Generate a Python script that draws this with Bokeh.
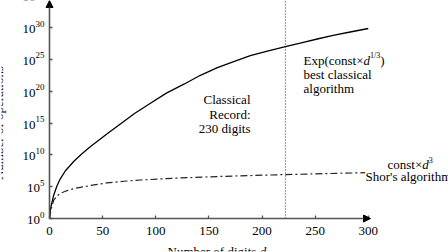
import numpy as np
from math import pi
from bokeh.plotting import figure
from bokeh.models import Label, FixedTicker, Arrow, NormalHead, CustomJSTickFormatter
from bokeh.embed import file_html
from bokeh.resources import INLINE

# ---- data ----
classical_digits = [0, 1, 2, 4, 7, 10, 15, 23, 30, 38.6, 54.3, 67, 80, 95, 110, 126.5, 142,
                    158, 174, 189, 205, 222, 237, 252, 268, 283, 300]
classical_log10_ops = [0, 1.5, 2.3, 3.7, 5.1, 6.2, 7.5, 9.0, 10.1, 11.3, 13.3, 14.9, 16.5, 18.1,
                       19.7, 21.1, 22.5, 23.7, 24.7, 25.6, 26.3, 27.0, 27.6, 28.2, 28.8, 29.3, 29.85]
shor_digits = [0, 1, 2, 4, 7, 10, 16, 23, 39, 54, 70, 86, 103, 120, 160, 200, 222, 260, 297]
shor_log10_ops = [0, 1.0, 1.8, 2.9, 3.5, 3.95, 4.35, 4.7, 5.2, 5.6, 5.85, 6.05, 6.2, 6.35, 6.6,
                  6.8, 6.9, 7.05, 7.2]
record_digits = 222
x_ticks = [0, 50, 100, 150, 200, 250, 300]
y_tick_exponents = [0, 5, 10, 15, 20, 25, 30, 35]

# ---- geometry: the frame (almost) fills the canvas; axes sit at fixed locations ----
W, H = 448, 252
X0_PX, Y0_PX = 49, 218          # pixel position of (0, 10^0)
KX = 1.0626                     # px per digit
KY = 6.365                      # px per decade
B = 1                           # thin border so the side panels exist
FONT = "Liberation Serif"


def dx(px):
    return (px - X0_PX) / KX


def dy(py):
    return 10 ** ((Y0_PX - py) / KY)


p = figure(width=W, height=H, x_range=(dx(B), dx(W)), y_range=(dy(H - B), dy(0)),
           y_axis_type="log", output_backend="svg", toolbar_location=None,
           min_border_left=B, min_border_right=0, min_border_top=0, min_border_bottom=B)
p.outline_line_color = None
p.xgrid.visible = False
p.ygrid.visible = False
p.background_fill_color = "white"
p.border_fill_color = "white"

AX = "#555555"
for ax in (p.xaxis, p.yaxis):
    ax.axis_line_color = None
    ax.major_tick_in = 3
    ax.major_tick_out = 0
    ax.minor_tick_line_color = None
    ax.major_tick_line_color = AX
    ax.major_tick_line_width = 1.3

# fixed_location is given in the cross-range's coordinates
p.xaxis.fixed_location = 1      # the x axis sits at y = 10^0
p.yaxis.fixed_location = 0      # the y axis sits at x = 0

p.xaxis.ticker = FixedTicker(ticks=x_ticks)
p.xaxis.major_label_text_font = FONT
p.xaxis.major_label_text_font_size = "13px"
p.xaxis.major_label_text_color = "black"
p.xaxis.major_label_standoff = 8

p.yaxis.ticker = FixedTicker(ticks=[10.0 ** k for k in y_tick_exponents])
p.yaxis.formatter = CustomJSTickFormatter(code="return '';")

# axis lines with arrow heads
p.add_layout(Arrow(end=NormalHead(size=7, fill_color="black", line_color="black", line_width=1),
                   x_start=0, y_start=1, x_end=0, y_end=dy(0),
                   line_color=AX, line_width=1.6))
p.add_layout(Arrow(end=NormalHead(size=7, fill_color="black", line_color="black", line_width=1),
                   x_start=0, y_start=1, x_end=dx(370), y_end=1,
                   line_color=AX, line_width=1.6))

# record line
p.segment(x0=[record_digits], y0=[1], x1=[record_digits], y1=[dy(0)], line_color="#222222",
          line_width=1, line_dash="1 2")

# curves
p.line(classical_digits, 10.0 ** np.array(classical_log10_ops), line_color="black", line_width=1.3)
p.line(shor_digits, 10.0 ** np.array(shor_log10_ops), line_color="#222222", line_width=1.2,
       line_dash="7 3 2 3")

# y tick labels 10^k
for k in y_tick_exponents:
    s = str(k)
    p.add_layout(Label(x=0, y=10.0 ** k, text="10", x_offset=-5 - 4.5 * len(s), y_offset=-1.5,
                       text_align="right", text_baseline="alphabetic", text_font=FONT,
                       text_font_size="13px", text_color="black"))
    p.add_layout(Label(x=0, y=10.0 ** k, text=s, x_offset=-5, y_offset=4,
                       text_align="right", text_baseline="alphabetic", text_font=FONT,
                       text_font_size="9px", text_color="black"))


def txt(text, px, py, size="13px", align="left", style="normal", angle=0):
    p.add_layout(Label(x=dx(px), y=dy(py), text=text, text_align=align,
                       text_baseline="alphabetic", text_font=FONT, text_font_size=size,
                       text_font_style=style, text_color="black", angle=angle))


# annotations
txt("Classical", 250, 99, align="right")
txt("Record:", 250, 113.5, align="right")
txt("230 digits", 250, 128, align="right")

txt("Exp(const×", 303, 59.5)
txt("d", 363, 59.5, style="italic")
txt("1/3", 369.5, 54.5, size="8px")
txt(")", 379.7, 59.5)
txt("best classical", 303, 73.5)
txt("algorithm", 303, 88)

txt("const×", 387, 164)
txt("d", 421.8, 164, style="italic")
txt("3", 428.3, 159, size="8px")
txt("Shor's algorithm", 365, 176)

# axis titles (partly cut off in the reference)
txt("Number of digits ", 167, 251)
txt("d", 259.2, 251, style="italic")
txt("Number of operations", -2.5, 122.5, align="center", angle=pi / 2)

open("out.html", "w").write(file_html(p, INLINE))
